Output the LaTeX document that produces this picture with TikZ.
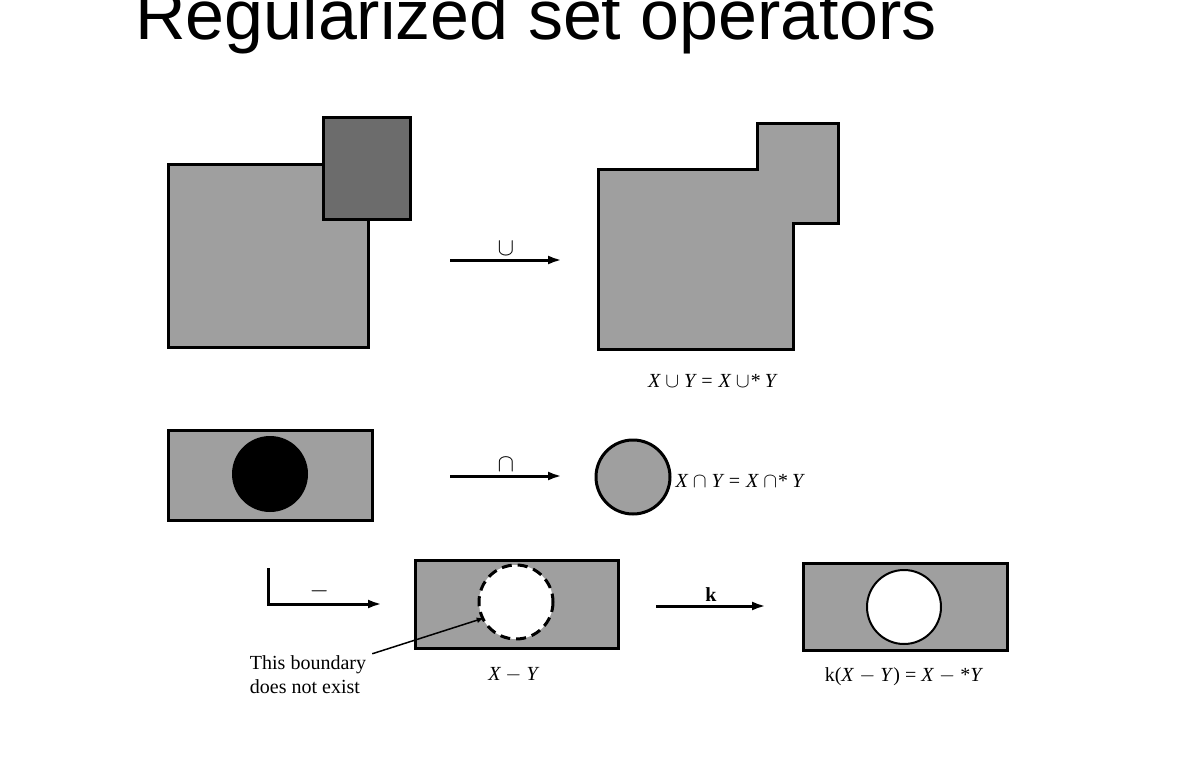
\documentclass[tikz,border=0pt]{standalone}
\usepackage{fontspec}
\usetikzlibrary{arrows.meta}
\setmainfont{Liberation Serif}
\newfontfamily\titlefont{Liberation Sans}
\begin{document}
\begin{tikzpicture}[x=1pt,y=-1pt,
  shade/.style={draw=black,line width=3pt,fill=gray!75},
  dark/.style={draw=black,line width=3pt,fill=gray!85!black},
  op/.style={-{Latex[length=14pt,width=9pt]},line width=3pt},
  lbl/.style={font=\fontsize{20}{23}\selectfont\itshape},
  sym/.style={font=\fontsize{24}{26}\selectfont}]
\useasboundingbox (0,0) rectangle (1192,757);
\node[anchor=base west,inner sep=0,font=\titlefont\fontsize{70}{76}\selectfont] (title) at (135,40) {Regularized set operators};
% row 1
\draw[shade] (168,165) rectangle (368,347);
\draw[dark] (323,118) rectangle (410,219);
\coordinate (a1) at (450,260); \coordinate (b1) at (562,260);
\draw[op] (a1) -- node[above,sym] {$\cup$} (b1);
\draw[shade] (598,170) -- (757,170) -- (757,124) -- (838,124) -- (838,223) -- (793,223) -- (793,349) -- (598,349) -- cycle;
\node[lbl] (u) at (712,381) {X $\cup$ Y = X $\cup$* Y};
% row 2
\draw[shade] (168,430) rectangle (372,520);
\fill[black] (270,474) circle (38);
\coordinate (a2) at (450,476); \coordinate (b2) at (562,476);
\draw[op] (a2) -- node[above,sym] {$\cap$} (b2);
\draw[shade] (633,477) circle (37);
\node[lbl,anchor=west] (i) at (672,481) {X $\cap$ Y = X $\cap$* Y};
% row 3
\coordinate (c0) at (268,568); \coordinate (c1) at (268,604); \coordinate (c2) at (382,604);
\draw[op] (c0) -- (c1) -- node[above,sym,pos=0.45] {$-$} (c2);
\draw[shade] (415,560) rectangle (618,648);
\fill[white] (516,602) circle (37);
\draw[line width=3pt,dash pattern=on 10pt off 6pt] (516,602) circle (37);
\node[lbl] (d) at (513,675) {X $-$ Y};
\node[align=left,font=\fontsize{20}{24}\selectfont,inner sep=0] (note) at (308,675) {This boundary\\does not exist};
\coordinate (p) at (484,618);
\draw[-latex,line width=1.5pt] ([xshift=6pt,yshift=2pt]note.north east) -- (p);
\coordinate (a3) at (656,606); \coordinate (b3) at (766,606);
\draw[op] (a3) -- node[above,font=\fontsize{20}{23}\selectfont\bfseries] {k} (b3);
\draw[shade] (803,563) rectangle (1007,650);
\draw[fill=white,line width=2pt] (904,607) circle (37);
\node[font=\fontsize{20}{23}\selectfont] (k) at (904,677) {k(\textit{X} $-$ \textit{Y}) = \textit{X} $-$ *\textit{Y}};
\end{tikzpicture}
\end{document}
